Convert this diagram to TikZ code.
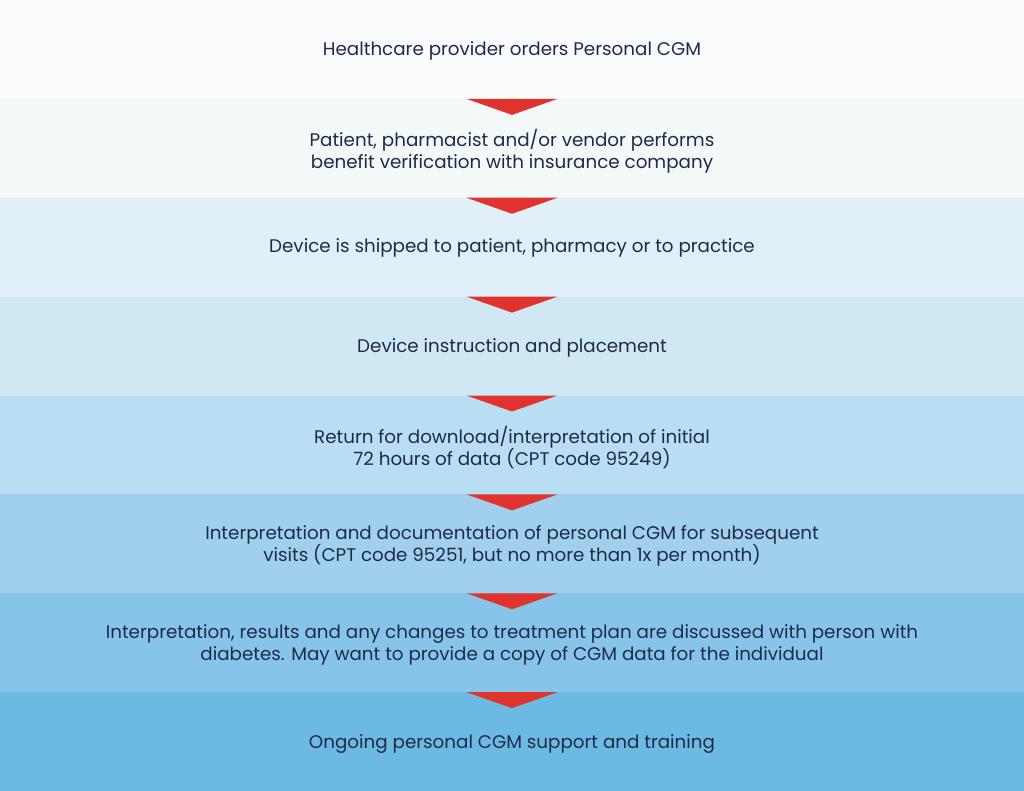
\documentclass[tikz,border=0pt]{standalone}
\usepackage{fontspec}
\setmainfont{Poppins}
\usetikzlibrary{calc}
\definecolor{txt}{HTML}{1E2B4A}
\definecolor{arrred}{HTML}{E1332D}
\definecolor{c1}{HTML}{F9FBFD}
\definecolor{c2}{HTML}{F3F8F9}
\definecolor{c3}{HTML}{E1EFF9}
\definecolor{c4}{HTML}{D0E7F4}
\definecolor{c5}{HTML}{B9DDF2}
\definecolor{c6}{HTML}{A0D0EE}
\definecolor{c7}{HTML}{86C5E9}
\definecolor{c8}{HTML}{6CB9E2}
\tikzset{
  band/.style={fill=#1, draw=none, minimum width=1024pt, minimum height=98.875pt,
    inner sep=0pt, outer sep=0pt, anchor=north},
  label/.style={text=txt, align=center, inner sep=0pt,
    font=\fontsize{18.3}{22}\selectfont},
  redarrow/.style={fill=arrred, draw=none}
}
\begin{document}
\begin{tikzpicture}[x=1pt,y=1pt]
\useasboundingbox (0,0) rectangle (1024,-791);
\node[band=c1] (b1) at (512,0) {};
\node[band=c2] (b2) at (b1.south) {};
\node[band=c3] (b3) at (b2.south) {};
\node[band=c4] (b4) at (b3.south) {};
\node[band=c5] (b5) at (b4.south) {};
\node[band=c6] (b6) at (b5.south) {};
\node[band=c7] (b7) at (b6.south) {};
\node[band=c8] (b8) at (b7.south) {};
\node[label] (t1) at ($(b1.center)+(0,-1)$) {Healthcare provider orders Personal CGM};
\node[label] (t2) at ($(b2.center)+(0,-2.5)$) {Patient, pharmacist and/or vendor performs\\benefit verification with insurance company};
\node[label] (t3) at ($(b3.center)+(0,-1)$) {Device is shipped to patient, pharmacy or to practice};
\node[label] (t4) at ($(b4.center)+(0,-2)$) {Device instruction and placement};
\node[label] (t5) at ($(b5.center)+(0,-2.5)$) {Return for download/interpretation of initial\\72 hours of data (CPT code 95249)};
\node[label] (t6) at ($(b6.center)+(0,-2.5)$) {Interpretation and documentation of personal CGM for subsequent\\visits (CPT code 95251, but no more than 1x per month)};
\node[label] (t7) at ($(b7.center)+(0,-2.5)$) {Interpretation, results and any changes to treatment plan are discussed with person with\\diabetes. May want to provide a copy of CGM data for the individual};
\node[label] (t8) at ($(b8.center)+(0,-2)$) {Ongoing personal CGM support and training};
\foreach \n in {1,...,7}{
  \fill[redarrow] ($(b\n.south)+(-45.5,0)$) -- ($(b\n.south)+(45.5,0)$) -- ($(b\n.south)+(0,-16)$) -- cycle;
}
\end{tikzpicture}
\end{document}
